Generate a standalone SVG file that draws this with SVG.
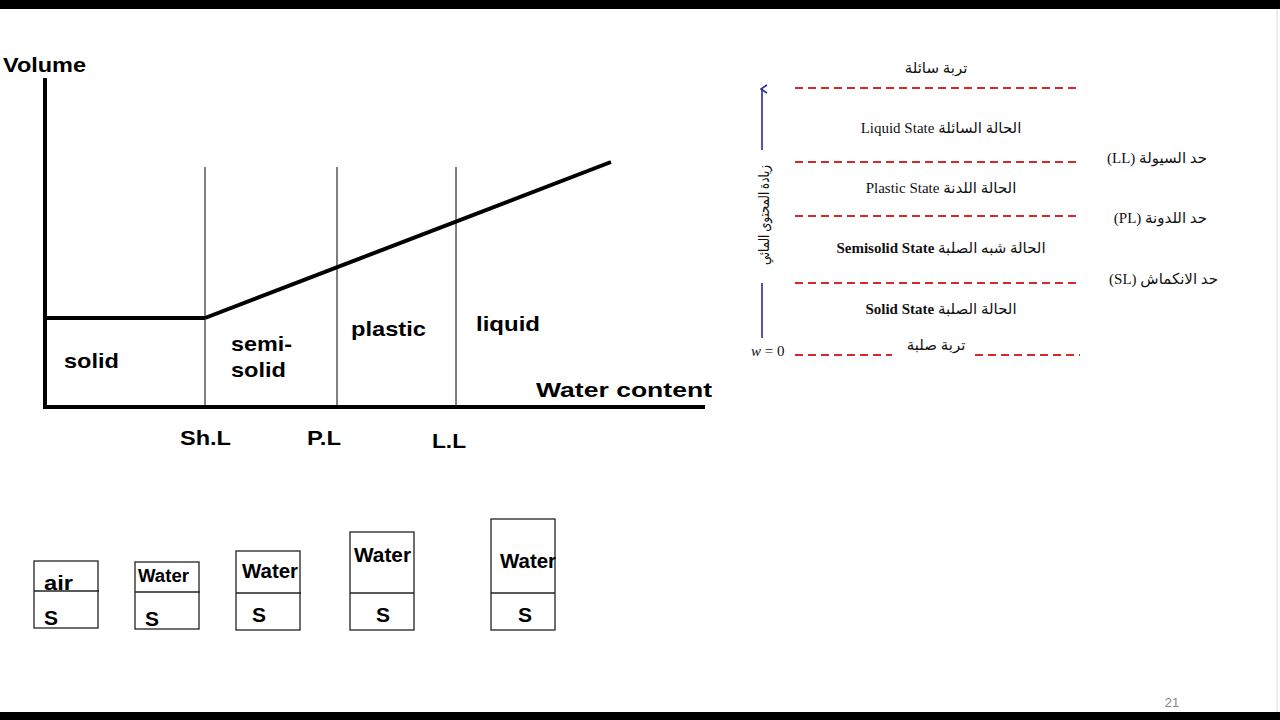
<svg xmlns="http://www.w3.org/2000/svg" width="1280" height="720" viewBox="0 0 1280 720">
<defs>
<style>
.b{font-family:"Liberation Sans",Arial,sans-serif;font-weight:bold;fill:#000}
.ax{stroke:#000;stroke-width:4;fill:none}
.thin{stroke:#000;stroke-width:1;fill:none}
.box{stroke:#222;stroke-width:1.3;fill:#fff}
.rd{stroke:#d42a2a;stroke-width:2;stroke-dasharray:8,5;fill:none}
.rs{font-family:"Liberation Serif","DejaVu Sans",serif;font-size:15px;fill:#111}
</style>
<marker id="ah" viewBox="0 0 10 10" refX="5" refY="2" markerWidth="10" markerHeight="10" markerUnits="userSpaceOnUse" orient="auto">
<path d="M1,7 L5,1 L9,7" stroke="#2a2a9a" stroke-width="1.6" fill="none"/>
</marker>
</defs>
<rect x="0" y="0" width="1280" height="720" fill="#fff"/>
<rect x="0" y="0" width="1280" height="9" fill="#000"/>
<rect x="0" y="712" width="1280" height="8" fill="#000"/>
<line x1="1277" y1="9" x2="1277" y2="712" stroke="#ddd" stroke-width="1"/>

<g id="graph">
<text class="b" x="3" y="72" font-size="21" textLength="83" lengthAdjust="spacingAndGlyphs">Volume</text>
<line class="ax" x1="45" y1="78" x2="45" y2="409"/>
<line class="ax" x1="43" y1="407" x2="705" y2="407"/>
<line class="ax" x1="45" y1="318" x2="205" y2="318"/>
<line class="ax" x1="205" y1="318" x2="611" y2="162"/>
<line class="thin" x1="205" y1="167" x2="205" y2="407"/>
<line class="thin" x1="337" y1="167" x2="337" y2="407"/>
<line class="thin" x1="456" y1="167" x2="456" y2="407"/>
<text class="b" x="64" y="368" font-size="21" textLength="55" lengthAdjust="spacingAndGlyphs">solid</text>
<text class="b" x="231" y="351" font-size="21" textLength="61" lengthAdjust="spacingAndGlyphs">semi-</text>
<text class="b" x="231" y="377" font-size="21" textLength="55" lengthAdjust="spacingAndGlyphs">solid</text>
<text class="b" x="351" y="336" font-size="21" textLength="75" lengthAdjust="spacingAndGlyphs">plastic</text>
<text class="b" x="476" y="331" font-size="21" textLength="64" lengthAdjust="spacingAndGlyphs">liquid</text>
<text class="b" x="536" y="397" font-size="21" textLength="176" lengthAdjust="spacingAndGlyphs">Water content</text>
<text class="b" x="180" y="445" font-size="20" textLength="51" lengthAdjust="spacingAndGlyphs">Sh.L</text>
<text class="b" x="307" y="445" font-size="20" textLength="34" lengthAdjust="spacingAndGlyphs">P.L</text>
<text class="b" x="432" y="448" font-size="20" textLength="34" lengthAdjust="spacingAndGlyphs">L.L</text>
</g>

<g id="box1">
<rect class="box" x="34" y="561" width="64" height="67"/>
<line stroke="#222" stroke-width="1.5" x1="34" y1="591" x2="99" y2="591"/>
<text class="b" x="44" y="590" font-size="21" textLength="29" lengthAdjust="spacingAndGlyphs">air</text>
<text class="b" x="44" y="625" font-size="21">S</text>
</g>
<g id="box2">
<rect class="box" x="135" y="562" width="64" height="67"/>
<line stroke="#222" stroke-width="1.5" x1="135" y1="592" x2="200" y2="592"/>
<text class="b" x="138" y="582" font-size="18" textLength="51" lengthAdjust="spacingAndGlyphs">Water</text>
<text class="b" x="145" y="626" font-size="21">S</text>
</g>
<g id="box3">
<rect class="box" x="236" y="551" width="64" height="79"/>
<line stroke="#222" stroke-width="1.5" x1="236" y1="593" x2="301" y2="593"/>
<text class="b" x="242" y="578" font-size="20" textLength="56" lengthAdjust="spacingAndGlyphs">Water</text>
<text class="b" x="252" y="622" font-size="21">S</text>
</g>
<g id="box4">
<rect class="box" x="350" y="532" width="64" height="98"/>
<line stroke="#222" stroke-width="1.5" x1="350" y1="593" x2="414" y2="593"/>
<text class="b" x="354" y="562" font-size="20" textLength="57" lengthAdjust="spacingAndGlyphs">Water</text>
<text class="b" x="376" y="622" font-size="21">S</text>
</g>
<g id="box5">
<rect class="box" x="491" y="519" width="64" height="111"/>
<line stroke="#222" stroke-width="1.5" x1="491" y1="593" x2="555" y2="593"/>
<text class="b" x="500" y="568" font-size="20" textLength="56" lengthAdjust="spacingAndGlyphs">Water</text>
<text class="b" x="518" y="622" font-size="21">S</text>
</g>

<g id="states">
<line x1="762" y1="150" x2="762" y2="89" stroke="#2a2a9a" stroke-width="1.6" marker-end="url(#ah)"/>
<line x1="762" y1="283" x2="762" y2="338" stroke="#2a2a9a" stroke-width="1.6"/>
<text class="rs" font-size="10" transform="translate(769,215) rotate(-90)" text-anchor="middle" textLength="100" lengthAdjust="spacingAndGlyphs">زيادة المحتوى المائي</text>
<text class="rs" x="751" y="356" font-size="11"><tspan font-style="italic">w</tspan> = 0</text>
<path class="rd" d="M795,88 H1080"/>
<path class="rd" d="M795,162 H1080" stroke-width="2.5"/>
<path class="rd" d="M795,216 H1080" stroke-width="1.5"/>
<path class="rd" d="M795,283 H1080"/>
<path class="rd" d="M795,355 H892 M975,355 H1080" stroke-width="1.5"/>
<text class="rs" x="936" y="73" font-size="13" text-anchor="middle">تربة سائلة</text>
<text class="rs" x="941" y="133" text-anchor="middle">Liquid State الحالة السائلة</text>
<text class="rs" x="1207" y="163" text-anchor="end">(LL) حد السيولة</text>
<text class="rs" x="941" y="193" text-anchor="middle">Plastic State الحالة اللدنة</text>
<text class="rs" x="1207" y="223" text-anchor="end">(PL) حد اللدونة</text>
<text class="rs" x="941" y="253" text-anchor="middle"><tspan font-weight="bold">Semisolid State</tspan> الحالة شبه الصلبة</text>
<text class="rs" x="1218" y="284" text-anchor="end">(SL)  حد الانكماش</text>
<text class="rs" x="941" y="314" text-anchor="middle"><tspan font-weight="bold">Solid State</tspan>  الحالة الصلبة</text>
<text class="rs" x="936" y="350" font-size="13" text-anchor="middle">تربة صلبة</text>
</g>
<text x="1172" y="707" font-family="Liberation Sans,sans-serif" font-size="13" fill="#888" text-anchor="middle">21</text>
</svg>
